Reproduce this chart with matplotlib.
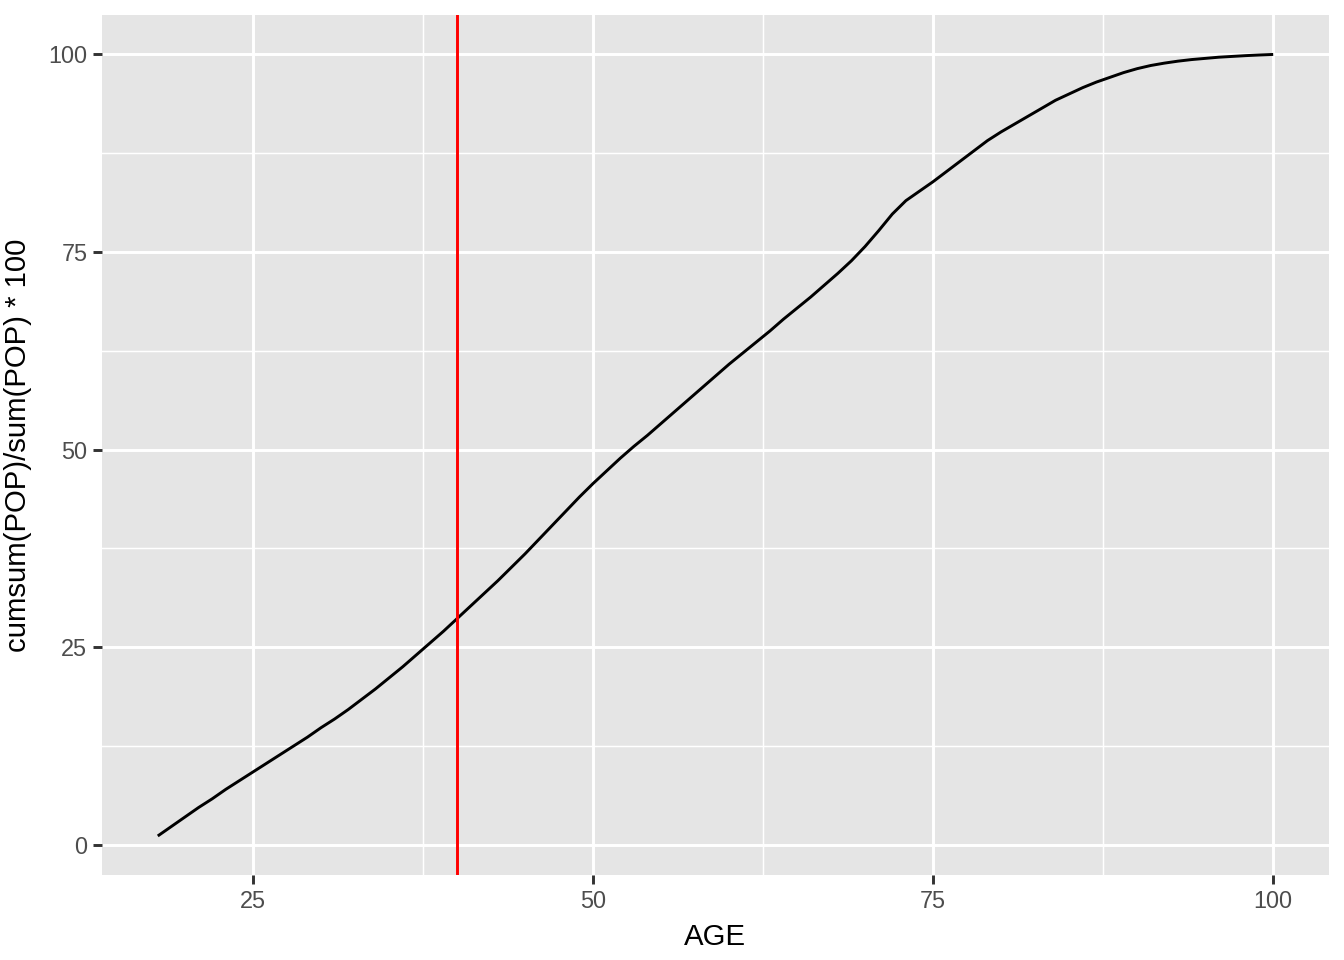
import numpy as np
import matplotlib.pyplot as plt
from matplotlib.ticker import MultipleLocator

# cumulative population share by age
age = list(range(18, 101))
cum_pct = [
    1.1, 2.3, 3.5, 4.7, 5.8, 7.0, 8.1, 9.2, 10.3, 11.4,   # 18-27
    12.5, 13.6, 14.8, 15.9, 17.1, 18.4, 19.7, 21.1, 22.5, 24.0,  # 28-37
    25.5, 27.0, 28.6, 30.2, 31.8, 33.4, 35.1, 36.8, 38.6, 40.4,  # 38-47
    42.2, 44.0, 45.7, 47.3, 48.9, 50.4, 51.8, 53.3, 54.8, 56.3,  # 48-57
    57.8, 59.3, 60.8, 62.2, 63.6, 65.0, 66.5, 67.9, 69.3, 70.8,  # 58-67
    72.3, 73.9, 75.7, 77.7, 79.8, 81.5, 82.7, 83.9, 85.2, 86.5,  # 68-77
    87.8, 89.1, 90.2, 91.2, 92.2, 93.2, 94.2, 95.0, 95.8, 96.5,  # 78-87
    97.1, 97.7, 98.2, 98.6, 98.9, 99.15, 99.35, 99.5, 99.65, 99.75,  # 88-97
    99.85, 99.93, 100.0,  # 98-100
]
cutoff_age = 40

plt.rcParams['font.family'] = ['Liberation Sans', 'DejaVu Sans']

fig = plt.figure(figsize=(7, 5), dpi=192)
ax = fig.add_axes([0.0759, 0.0885, 0.9888 - 0.0759, 0.984 - 0.0885])
ax.set_facecolor('#E5E5E5')

ax.plot(age, cum_pct, color='black', linewidth=1.1, zorder=3,
        solid_capstyle='butt', solid_joinstyle='round')
ax.axvline(cutoff_age, color='#FF0000', linewidth=1.1, zorder=3)

# ggplot-like expansion
xr = max(age) - min(age)
yr = max(cum_pct) - min(cum_pct)
ax.set_xlim(min(age) - 0.05 * xr, max(age) + 0.05 * xr)
ax.set_ylim(min(cum_pct) - 0.05 * yr, max(cum_pct) + 0.05 * yr)

ax.xaxis.set_major_locator(MultipleLocator(25))
ax.yaxis.set_major_locator(MultipleLocator(25))
ax.xaxis.set_minor_locator(MultipleLocator(12.5))
ax.yaxis.set_minor_locator(MultipleLocator(12.5))

ax.grid(which='major', color='white', linewidth=1.1)
ax.grid(which='minor', color='white', linewidth=0.55)
ax.set_axisbelow(True)

for s in ax.spines.values():
    s.set_visible(False)

ax.tick_params(which='major', length=3.5, width=1.1, color='#333333',
               labelcolor='#4D4D4D', labelsize=8.8, pad=2)
ax.tick_params(which='minor', length=0)

ax.set_xlabel('AGE', fontsize=11, color='black', labelpad=4)
ax.set_ylabel('cumsum(POP)/sum(POP) * 100', fontsize=11, color='black', labelpad=6)

fig.savefig('out.png', dpi=192)
